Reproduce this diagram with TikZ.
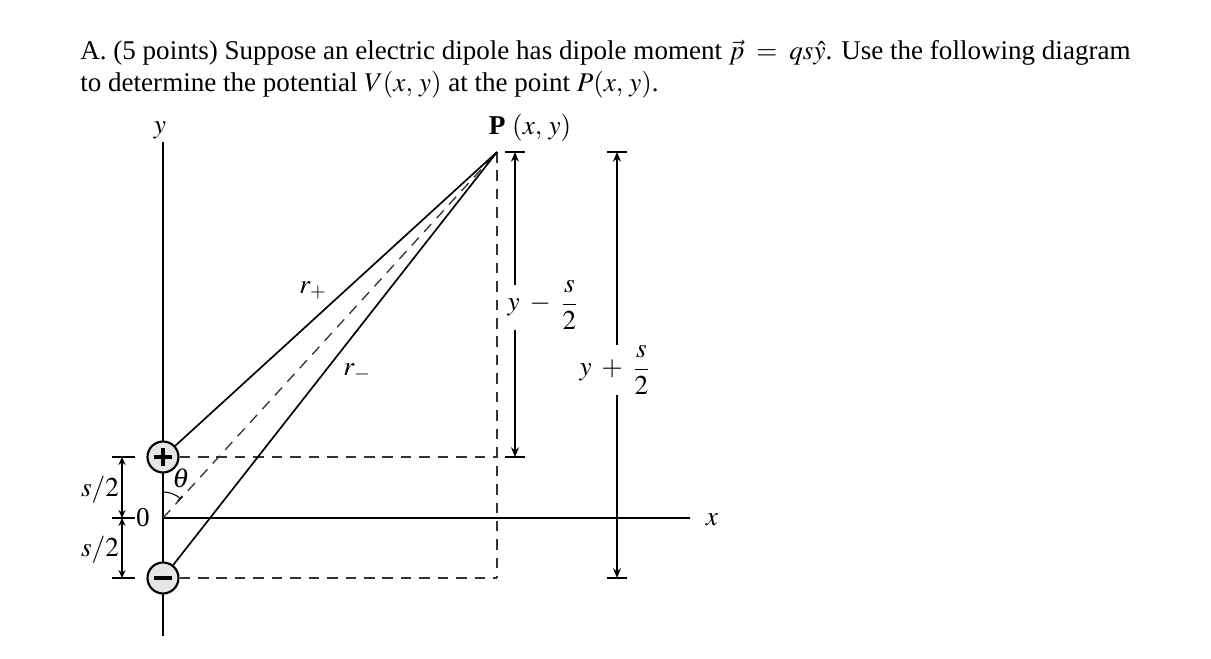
\documentclass[tikz,border=0pt]{standalone}
\usepackage{mathptmx}
\usepackage{fontspec}
\setmainfont{Liberation Serif}
\usetikzlibrary{arrows.meta}
\begin{document}
\begin{tikzpicture}[x=0.02cm,y=0.02cm,
  axis/.style={line width=1.1pt},
  ln/.style={line width=0.95pt},
  dsh/.style={dash pattern=on 6pt off 4.5pt, line width=0.75pt, black!80},
  charge/.style={circle, draw, line width=1.2pt, fill=gray!20, minimum size=0.62cm, inner sep=0pt},
  dim/.style={line width=0.8pt, -{Stealth[length=5.5pt,width=4.5pt]}},
  ddim/.style={line width=0.8pt, {Stealth[length=4.5pt,width=4pt]}-{Stealth[length=4.5pt,width=4pt]}},
  tick/.style={line width=0.8pt},
  ttl/.style={font=\fontsize{15.4}{18}\selectfont, inner sep=0pt, anchor=base west},
  lbl/.style={font=\fontsize{15.5}{18}\selectfont, inner sep=1pt}
]
\useasboundingbox (0,0) rectangle (1211,659);

% title
\node[ttl] (t1) at (80,599) {A. (5 points) Suppose an electric dipole has dipole moment $\vec{p}\;=\;qs\hat{y}$. Use the following diagram};
\node[ttl] (t2) at (80,567) {to determine the potential $V(x,\,y)$ at the point $P(x,\,y)$.};

% key points
\coordinate (O) at (163,141);
\coordinate (P) at (497,507);
\coordinate (ytop) at (163,517);
\coordinate (ybot) at (163,23);
\coordinate (xend) at (690,141);
\coordinate (cP) at (497,202);
\coordinate (cM) at (497,81);

% axes
\draw[axis] (ytop) -- (ybot);
\draw[axis] (O) -- (xend);

% dashed guides
\draw[dsh] (O) -- (P);
\draw[dsh] (P) -- (cM);

% charges
\node[charge] (plus) at (163,202) {};
\node[charge] (minus) at (163,81) {};
\draw[line width=1.9pt] ([xshift=-9*0.02cm]plus.center) -- ([xshift=9*0.02cm]plus.center);
\draw[line width=1.9pt] ([yshift=-9*0.02cm]plus.center) -- ([yshift=9*0.02cm]plus.center);
\draw[line width=2.1pt] ([xshift=-9*0.02cm]minus.center) -- ([xshift=9*0.02cm]minus.center);

\draw[dsh] (plus.east) -- (cP);
\draw[dsh] (minus.east) -- (cM);

% r lines
\draw[ln] (plus) -- (P);
\draw[ln] (minus) -- (P);

% labels
\node[lbl] (ylab) at (160,529) {$y$};
\node[lbl] (Plab) at (530,531) {\textbf{P} $(x,\,y)$};
\node[lbl] (xlab) at (712,139) {$x$};
\node[lbl] (rp) at (313,369) {$r_+$};
\node[lbl] (rm) at (357,287) {$r_-$};
\node[lbl] (th) at (181,181) {$\theta$};
\node[lbl] (zero) at (143,141) {0};
\node[lbl] (s1) at (100,169) {$s/2$};
\node[lbl] (s2) at (100,109) {$s/2$};

% theta arc
\draw[line width=0.6pt, -{Bar[width=4pt]}] (163,167) arc[start angle=90, end angle=47.6, radius=26];

% right dimensions
\coordinate (a1t) at (515,507);
\coordinate (a1b) at (515,202);
\coordinate (a2t) at (617,507);
\coordinate (a2b) at (617,81);
\draw[tick] (505,507) -- (525,507);
\draw[tick] (505,202) -- (525,202);
\draw[tick] (607,507) -- (627,507);
\draw[tick] (607,81) -- (627,81);
\draw[dim] (515,374) -- (a1t);
\draw[dim] (515,329) -- (a1b);
\draw[dim] (617,314) -- (a2t);
\draw[dim] (617,264) -- (a2b);
\node[lbl] (ym) at (543,354) {$\displaystyle y\;-\;\frac{s}{2}$};
\node[lbl] (yp) at (615,289) {$\displaystyle y\;+\;\frac{s}{2}$};

% left dimensions
\draw[tick] (112,202) -- (135,202);
\draw[tick] (112,141) -- (135,141);
\draw[tick] (112,81) -- (135,81);
\coordinate (l1) at (122,202);
\coordinate (l0) at (122,141);
\coordinate (l2) at (122,81);
\draw[ddim] (l0) -- (l1);
\draw[ddim] (l0) -- (l2);
\end{tikzpicture}
\end{document}
